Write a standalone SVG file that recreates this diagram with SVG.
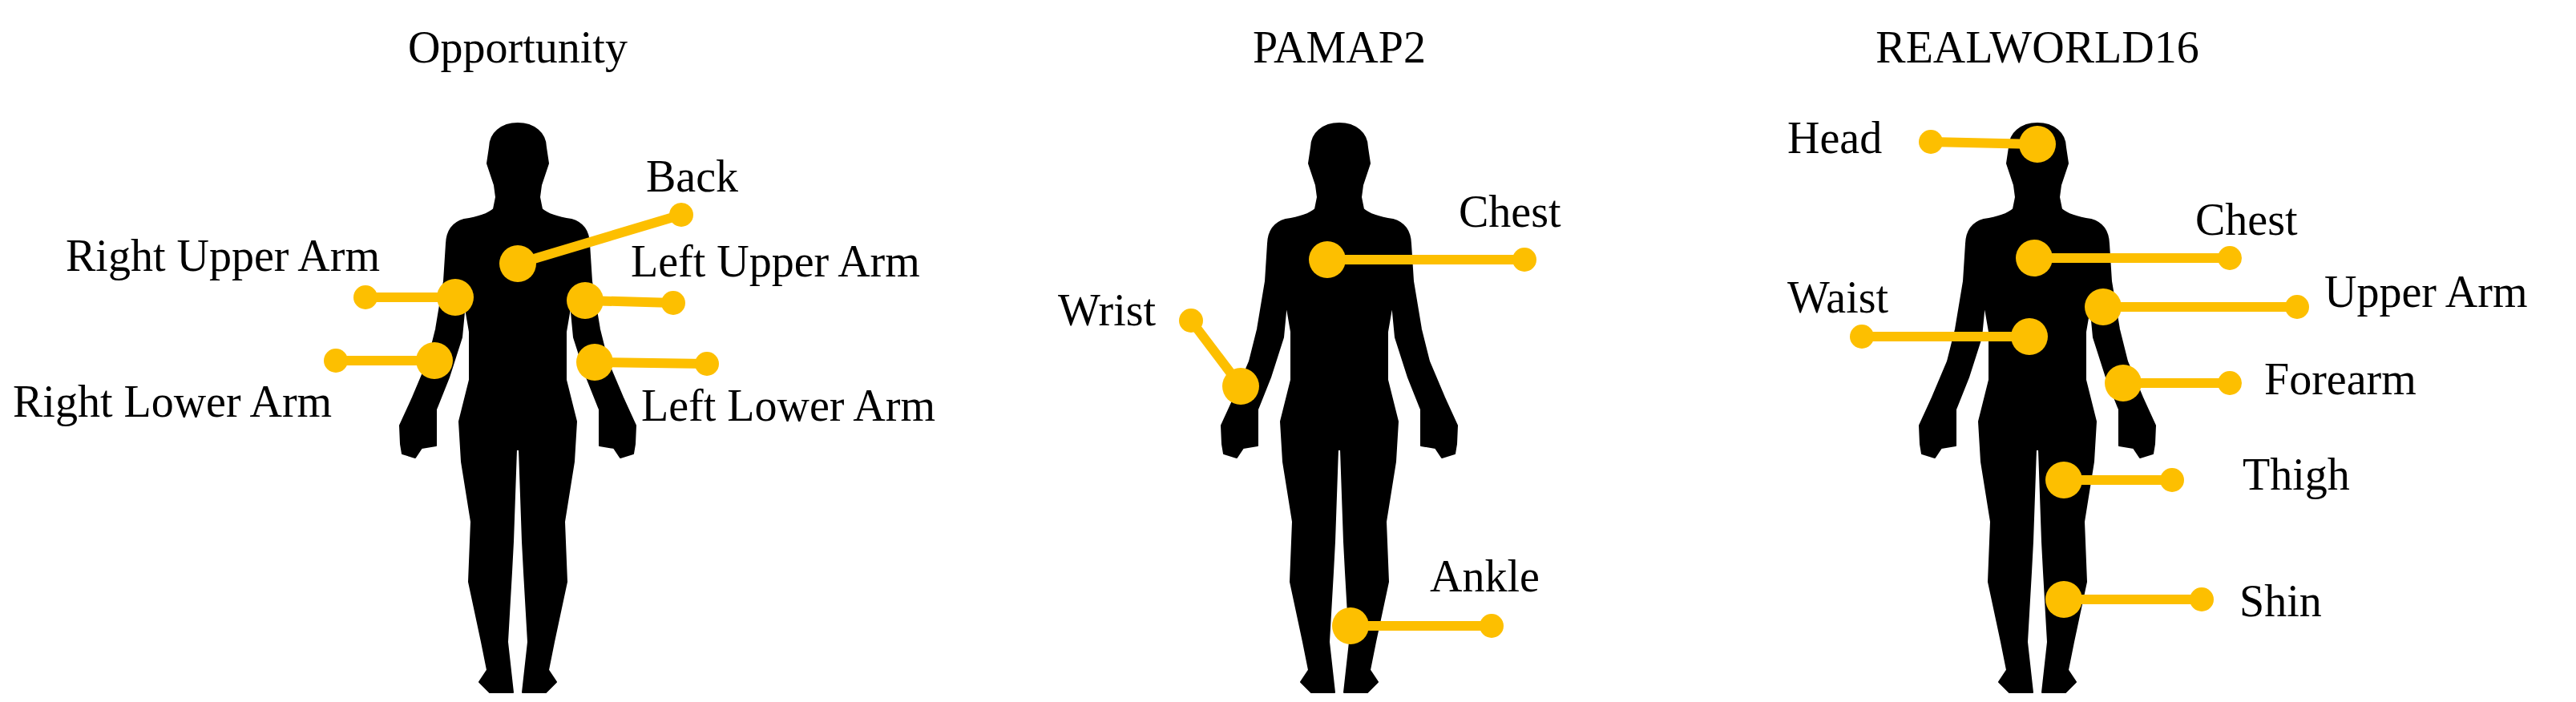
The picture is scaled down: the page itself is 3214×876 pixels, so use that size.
<svg xmlns="http://www.w3.org/2000/svg" width="3214" height="876" viewBox="0 0 3214 876">
<style>
text{font-family:"Liberation Serif","Times New Roman",serif;font-size:56px;fill:#000}
.t{text-anchor:middle}
.ln{stroke:#FDBF00;stroke-width:12;fill:none}
.big{fill:#FDBF00}
.sm{fill:#FDBF00}
.body{fill:#000;stroke:#000;stroke-width:2;stroke-linejoin:round}
</style>
<defs>
<path id="fig" class="body" d="M0,0 C20,0 35,12 35,30 L38,50 L29,77 L27,92 L30,107 Q40,116 67,120 Q88,126 89,150 L92,197 L102,257 L112,297 L131,342 L147,377 L146,400 L144,412 L128,417 L120,405 L102,402 L102,357 L86,317 L70,267 L66,225 L60,260 L60,320 L73,372 L70,422 L58,497 L61,572 L45,647 L38,682 L48,697 L35,710 L6,710 L13,647 L8,560 L6,522 L2,407 L-2,407 L-6,522 L-8,560 L-13,647 L-6,710 L-35,710 L-48,697 L-38,682 L-45,647 L-61,572 L-58,497 L-70,422 L-73,372 L-60,320 L-60,260 L-66,225 L-70,267 L-86,317 L-102,357 L-102,402 L-120,405 L-128,417 L-144,412 L-146,400 L-147,377 L-131,342 L-112,297 L-102,257 L-92,197 L-89,150 Q-88,126 -67,120 Q-40,116 -30,107 L-27,92 L-29,77 L-38,50 L-35,30 C-35,12 -20,0 0,0 Z"/>
</defs>
<g id="body-opportunity"><use href="#fig" transform="translate(646,154)"/></g>
<g id="body-pamap2"><use href="#fig" transform="translate(1671,154)"/></g>
<g id="body-realworld"><use href="#fig" transform="translate(2542,154)"/></g>
<g id="titles">
<text class="t" x="646" y="78">Opportunity</text>
<text class="t" x="1671" y="78">PAMAP2</text>
<text class="t" x="2542" y="78">REALWORLD16</text>
</g>
<g id="connectors">
<line class="ln" x1="646" y1="329" x2="850" y2="268"/>
<line class="ln" x1="568" y1="371" x2="456" y2="371"/>
<line class="ln" x1="542" y1="450" x2="419" y2="450"/>
<line class="ln" x1="730" y1="375" x2="840" y2="378"/>
<line class="ln" x1="742" y1="452" x2="882" y2="454"/>
<line class="ln" x1="1656" y1="324" x2="1902" y2="324"/>
<line class="ln" x1="1486" y1="400" x2="1548" y2="482"/>
<line class="ln" x1="1685" y1="781" x2="1861" y2="781"/>
<line class="ln" x1="2409" y1="177" x2="2542" y2="180"/>
<line class="ln" x1="2538" y1="322" x2="2782" y2="322"/>
<line class="ln" x1="2624" y1="383" x2="2866" y2="383"/>
<line class="ln" x1="2323" y1="420" x2="2532" y2="420"/>
<line class="ln" x1="2649" y1="478" x2="2782" y2="478"/>
<line class="ln" x1="2575" y1="599" x2="2710" y2="599"/>
<line class="ln" x1="2575" y1="748" x2="2747" y2="748"/>
</g>
<g id="n-back"><circle class="big" cx="646" cy="329" r="23"/><circle class="sm" cx="850" cy="268" r="15"/><text x="806" y="239">Back</text></g>
<g id="n-rua"><circle class="big" cx="568" cy="371" r="23"/><circle class="sm" cx="456" cy="371" r="15"/><text x="82" y="338">Right Upper Arm</text></g>
<g id="n-rla"><circle class="big" cx="542" cy="450" r="23"/><circle class="sm" cx="419" cy="450" r="15"/><text x="16" y="520">Right Lower Arm</text></g>
<g id="n-lua"><circle class="big" cx="730" cy="375" r="23"/><circle class="sm" cx="840" cy="378" r="15"/><text x="787" y="345">Left Upper Arm</text></g>
<g id="n-lla"><circle class="big" cx="742" cy="452" r="23"/><circle class="sm" cx="882" cy="454" r="15"/><text x="800" y="525">Left Lower Arm</text></g>
<g id="n-p-chest"><circle class="big" cx="1656" cy="324" r="23"/><circle class="sm" cx="1902" cy="324" r="15"/><text x="1820" y="283">Chest</text></g>
<g id="n-p-wrist"><circle class="big" cx="1548" cy="482" r="23"/><circle class="sm" cx="1486" cy="400" r="15"/><text x="1320" y="406">Wrist</text></g>
<g id="n-p-ankle"><circle class="big" cx="1685" cy="781" r="23"/><circle class="sm" cx="1861" cy="781" r="15"/><text x="1784" y="738">Ankle</text></g>
<g id="n-r-head"><circle class="big" cx="2542" cy="180" r="23"/><circle class="sm" cx="2409" cy="177" r="15"/><text x="2230" y="191">Head</text></g>
<g id="n-r-chest"><circle class="big" cx="2538" cy="322" r="23"/><circle class="sm" cx="2782" cy="322" r="15"/><text x="2739" y="293">Chest</text></g>
<g id="n-r-upperarm"><circle class="big" cx="2624" cy="383" r="23"/><circle class="sm" cx="2866" cy="383" r="15"/><text x="2900" y="383">Upper Arm</text></g>
<g id="n-r-waist"><circle class="big" cx="2532" cy="420" r="23"/><circle class="sm" cx="2323" cy="420" r="15"/><text x="2230" y="390">Waist</text></g>
<g id="n-r-forearm"><circle class="big" cx="2649" cy="478" r="23"/><circle class="sm" cx="2782" cy="478" r="15"/><text x="2825" y="492">Forearm</text></g>
<g id="n-r-thigh"><circle class="big" cx="2575" cy="599" r="23"/><circle class="sm" cx="2710" cy="599" r="15"/><text x="2798" y="611">Thigh</text></g>
<g id="n-r-shin"><circle class="big" cx="2575" cy="748" r="23"/><circle class="sm" cx="2747" cy="748" r="15"/><text x="2794" y="769">Shin</text></g>
</svg>
